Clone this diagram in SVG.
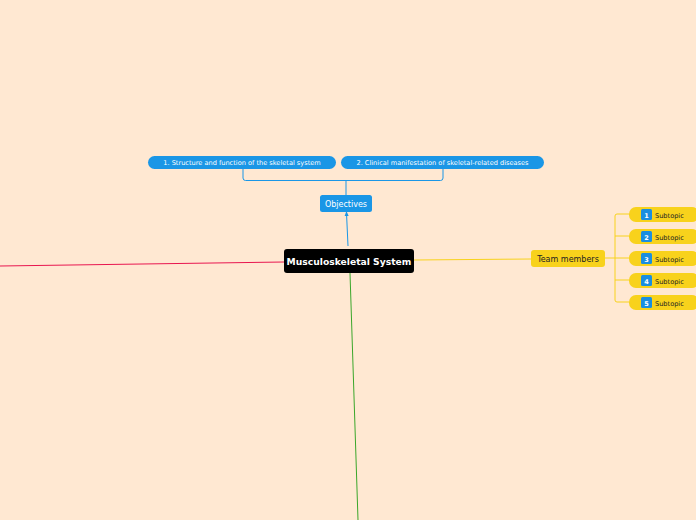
<svg xmlns="http://www.w3.org/2000/svg" width="696" height="520" viewBox="0 0 696 520">
<style>
text{font-family:"DejaVu Sans",Verdana,sans-serif}
.pill{fill:#1a96e6}
.pt{fill:#fff;font-size:6.6px}
.sub{fill:#f8d21c}
.st{fill:#222;font-size:6.6px}
.badge{fill:#1a8ee0}
.bt{fill:#fff;font-size:6.5px;font-weight:bold}
</style>
<defs><marker id="a" markerWidth="6" markerHeight="6" refX="3" refY="3" orient="auto"><path d="M0,1 L5,3 L0,5z" fill="#1a96e6"/></marker></defs>
<rect width="696" height="520" fill="#ffe8d2"/>
<g id="connectors" fill="none">
<path d="M284,262 L0,266" stroke="#e8164f"/>
<path d="M350,273 L358,520" stroke="#3aa62a"/>
<path d="M414,260 L531,259" stroke="#f8d21c"/>
<path d="M348,246 L346.5,213" stroke="#1a96e6" marker-end="url(#a)"/>
<path d="M346,195 V180.5 M243,169 V178 Q243,180.5 245.5,180.5 H440.5 Q443,180.5 443,178 V169" stroke="#1a96e6"/>
<path d="M605,258 H615 M629,214 H617 Q615,214 615,216 V300 Q615,302 617,302 H629 M615,236 H629 M615,258 H629 M615,280 H629" stroke="#f8d21c"/>
</g>
<g id="central"><rect x="284" y="249" width="130" height="24" rx="3" fill="#000"/><text x="349" y="265" text-anchor="middle" fill="#fff" font-size="9.2" font-weight="bold">Musculoskeletal System</text></g>
<g id="objectives"><rect x="320" y="195" width="52" height="17" rx="2.5" class="pill"/><text x="346" y="207" text-anchor="middle" fill="#fff" font-size="8">Objectives</text></g>
<g id="obj1"><rect x="148" y="156" width="188" height="13" rx="6.5" class="pill"/><text x="242" y="165" text-anchor="middle" class="pt">1. Structure and function of the skeletal system</text></g>
<g id="obj2"><rect x="341" y="156" width="203" height="13" rx="6.5" class="pill"/><text x="442.5" y="165" text-anchor="middle" class="pt">2. Clinical manifestation of skeletal-related diseases</text></g>
<g id="team"><rect x="531" y="250" width="74" height="17" rx="3" class="sub"/><text x="568" y="261.5" text-anchor="middle" fill="#222" font-size="8">Team members</text></g>
<g id="s1"><rect x="629" y="207" width="70" height="15" rx="7" class="sub"/><rect x="641" y="209" width="11" height="11" rx="1.5" class="badge"/><text x="646.5" y="217.5" text-anchor="middle" class="bt">1</text><text x="655" y="217.5" class="st">Subtopic</text></g>
<g id="s2"><rect x="629" y="229" width="70" height="15" rx="7" class="sub"/><rect x="641" y="231" width="11" height="11" rx="1.5" class="badge"/><text x="646.5" y="239.5" text-anchor="middle" class="bt">2</text><text x="655" y="239.5" class="st">Subtopic</text></g>
<g id="s3"><rect x="629" y="251" width="70" height="15" rx="7" class="sub"/><rect x="641" y="253" width="11" height="11" rx="1.5" class="badge"/><text x="646.5" y="261.5" text-anchor="middle" class="bt">3</text><text x="655" y="261.5" class="st">Subtopic</text></g>
<g id="s4"><rect x="629" y="273" width="70" height="15" rx="7" class="sub"/><rect x="641" y="275" width="11" height="11" rx="1.5" class="badge"/><text x="646.5" y="283.5" text-anchor="middle" class="bt">4</text><text x="655" y="283.5" class="st">Subtopic</text></g>
<g id="s5"><rect x="629" y="295" width="70" height="15" rx="7" class="sub"/><rect x="641" y="297" width="11" height="11" rx="1.5" class="badge"/><text x="646.5" y="305.5" text-anchor="middle" class="bt">5</text><text x="655" y="305.5" class="st">Subtopic</text></g>
</svg>
